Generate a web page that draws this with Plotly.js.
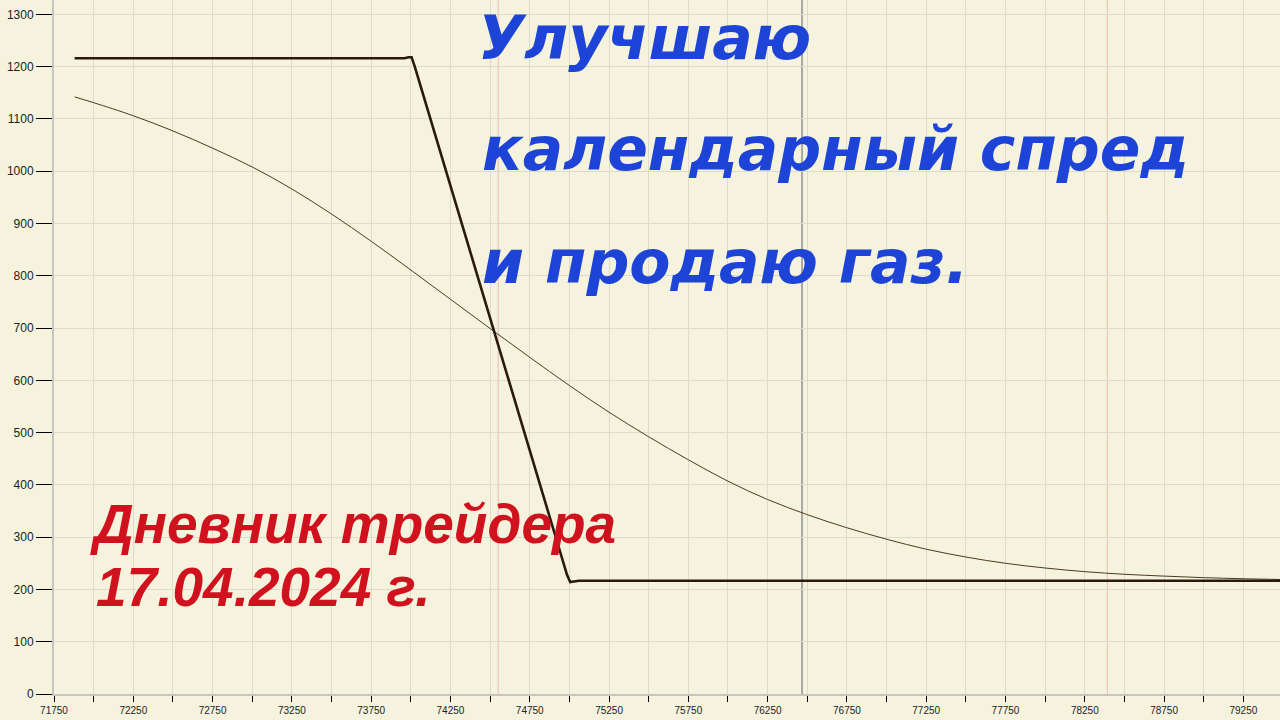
<!DOCTYPE html>
<html>
<head>
<meta charset="utf-8">
<script src="https://cdn.plot.ly/plotly-3.0.1.min.js"></script>
<style>
  html, body { margin: 0; padding: 0; background: #f5f3dd; }
  #chart { width: 1280px; height: 720px; }
</style>
</head>
<body>
<div id="chart"></div>
<script>
// Thin curve (S-shaped value curve)
const curveX = [71880, 72000, 72250, 72500, 72750, 73000, 73250, 73500, 73750, 74000,
                74250, 74500, 74750, 75000, 75250, 75500, 75750, 76000, 76250, 76500,
                76750, 77000, 77250, 77500, 77750, 78000, 78250, 78500, 78750, 79000,
                79250, 79481];
const curveY = [1142, 1131, 1106, 1077, 1044, 1008, 966, 918, 866, 811,
                755, 699, 644, 590, 539, 492, 448, 407, 372, 343,
                318, 296, 277, 262, 250, 241, 234, 229, 225.5, 222.5,
                220.5, 219];

// Thick payoff line
const payoffX = [71880, 73960, 73985, 74005, 74025, 74985, 75005, 75025, 75060, 79481];
const payoffY = [1216, 1216, 1218, 1218, 1200, 228, 214, 215, 216.5, 216.5];

// Marker vertical lines
const pinkLinesX = [74551, 78392];
const grayLinesX = [76467];

// Axis ticks
const yTickVals = [0, 100, 200, 300, 400, 500, 600, 700, 800, 900, 1000, 1100, 1200, 1300];
const xTickVals = [71750, 72000, 72250, 72500, 72750, 73000, 73250, 73500, 73750, 74000,
                   74250, 74500, 74750, 75000, 75250, 75500, 75750, 76000, 76250, 76500,
                   76750, 77000, 77250, 77500, 77750, 78000, 78250, 78500, 78750, 79000,
                   79250];
const xTickText = ['71750', '', '72250', '', '72750', '', '73250', '', '73750', '',
                   '74250', '', '74750', '', '75250', '', '75750', '', '76250', '',
                   '76750', '', '77250', '', '77750', '', '78250', '', '78750', '',
                   '79250'];

// Texts
const blueLines = ['Улучшаю', 'календарный спред', 'и продаю газ.'];
const redLines = ['Дневник трейдера', '17.04.2024 г.'];

const W = 1280, H = 720, ML = 54, MB = 26;
const PW = W - ML, PH = H - MB;
const px = v => (v - ML) / PW;
const py = v => (PH - v) / PH;

const traces = [
  {
    x: curveX, y: curveY, type: 'scatter', mode: 'lines',
    line: { color: '#4a3b22', width: 1, shape: 'spline', smoothing: 1 },
    hoverinfo: 'skip', showlegend: false
  },
  {
    x: payoffX, y: payoffY, type: 'scatter', mode: 'lines',
    line: { color: '#2a1a0c', width: 2.6 },
    hoverinfo: 'skip', showlegend: false
  }
];

const shapes = [];
pinkLinesX.forEach(v => shapes.push({
  type: 'line', xref: 'x', yref: 'paper', x0: v, x1: v, y0: 0, y1: 1,
  line: { color: '#ebbcb2', width: 1 }, layer: 'below'
}));
grayLinesX.forEach(v => shapes.push({
  type: 'line', xref: 'x', yref: 'paper', x0: v, x1: v, y0: 0, y1: 1,
  line: { color: '#a8a9a0', width: 2 }, layer: 'below'
}));

const blueFont = { family: 'DejaVu Sans, Liberation Sans, Arial', size: 60, color: '#1d44d6', weight: 'bold', style: 'italic' };
const redFont = { family: 'Liberation Sans, Arial', size: 55, color: '#d0121f', weight: 'bold', style: 'italic' };

const annotations = [
  { text: blueLines[0], x: px(476), y: py(38), xref: 'paper', yref: 'paper', xanchor: 'left', yanchor: 'middle', showarrow: false, font: blueFont },
  { text: blueLines[1], x: px(480), y: py(149), xref: 'paper', yref: 'paper', xanchor: 'left', yanchor: 'middle', showarrow: false, font: blueFont },
  { text: blueLines[2], x: px(480), y: py(262), xref: 'paper', yref: 'paper', xanchor: 'left', yanchor: 'middle', showarrow: false, font: blueFont },
  { text: redLines[0], x: px(88), y: py(524), xref: 'paper', yref: 'paper', xanchor: 'left', yanchor: 'middle', showarrow: false, font: redFont },
  { text: redLines[1], x: px(94), y: py(587), xref: 'paper', yref: 'paper', xanchor: 'left', yanchor: 'middle', showarrow: false, font: redFont }
];

const layout = {
  width: W, height: H,
  margin: { l: ML, r: 0, t: 0, b: MB, pad: 0 },
  paper_bgcolor: '#f5f3dd', plot_bgcolor: '#f5f3dd',
  showlegend: false,
  xaxis: {
    range: [71750, 79481],
    tickmode: 'array', tickvals: xTickVals, ticktext: xTickText,
    ticks: 'outside', ticklen: 6, tickcolor: '#000', tickwidth: 1,
    showline: true, linecolor: '#c6c6be', linewidth: 2,
    showgrid: true, gridcolor: '#dddbc9', gridwidth: 1,
    zeroline: false,
    tickfont: { family: 'Liberation Sans, Arial', size: 10, color: '#222' },
    fixedrange: true
  },
  yaxis: {
    range: [0, 1327.4],
    tickmode: 'array', tickvals: yTickVals,
    ticks: 'outside', ticklen: 16, tickcolor: '#000', tickwidth: 1,
    showline: true, linecolor: '#c6c6be', linewidth: 2,
    showgrid: true, gridcolor: '#dddbc9', gridwidth: 1,
    zeroline: false,
    tickfont: { family: 'Liberation Sans, Arial', size: 12, color: '#222' },
    fixedrange: true
  },
  shapes: shapes,
  annotations: annotations
};

Plotly.newPlot('chart', traces, layout, { displayModeBar: false, staticPlot: true });
</script>
</body>
</html>
